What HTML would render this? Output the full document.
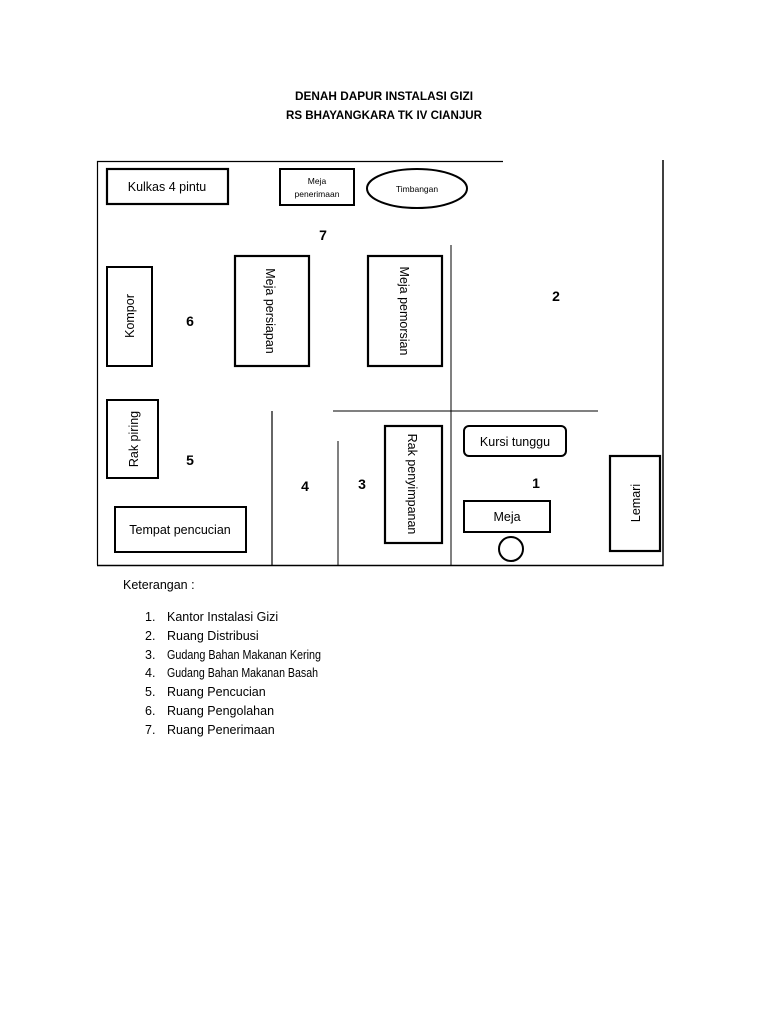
<!DOCTYPE html>
<html><head><meta charset="utf-8"><style>
html,body{margin:0;padding:0;background:#fff;}
svg{display:block;}
text{font-family:"Liberation Sans",sans-serif;fill:#000;}
</style></head><body>
<svg width="768" height="1024" viewBox="0 0 768 1024" xmlns="http://www.w3.org/2000/svg">
<rect width="768" height="1024" fill="#fff"/>
<text x="384" y="100" font-size="11.5" font-weight="bold" text-anchor="middle" textLength="178" lengthAdjust="spacingAndGlyphs">DENAH DAPUR INSTALASI GIZI</text>
<text x="384" y="119" font-size="11.5" font-weight="bold" text-anchor="middle" textLength="196" lengthAdjust="spacingAndGlyphs">RS BHAYANGKARA TK IV CIANJUR</text>

<g stroke="#000" fill="none">
<path d="M503 161.5 H97.5 V565" stroke-width="1.2"/>
<path d="M663 160 V565.5 H97" stroke-width="1.5"/>
<line x1="451" y1="245" x2="451" y2="565" stroke-width="1"/>
<line x1="333" y1="411" x2="598" y2="411" stroke-width="1"/>
<line x1="272" y1="411" x2="272" y2="565" stroke-width="1.2"/>
<line x1="338" y1="441" x2="338" y2="565" stroke-width="1"/>

<rect x="107" y="169" width="121" height="35" stroke-width="2.2"/>
<rect x="280" y="169" width="74" height="36" stroke-width="2"/>
<ellipse cx="417" cy="188.5" rx="50" ry="19.5" stroke-width="2"/>
<rect x="107" y="267" width="45" height="99" stroke-width="2"/>
<rect x="235" y="256" width="74" height="110" stroke-width="2.2"/>
<rect x="368" y="256" width="74" height="110" stroke-width="2.2"/>
<rect x="107" y="400" width="51" height="78" stroke-width="2"/>
<rect x="385" y="426" width="57" height="117" stroke-width="2.2"/>
<rect x="464" y="426" width="102" height="30" rx="5" stroke-width="2"/>
<rect x="464" y="501" width="86" height="31" stroke-width="2"/>
<circle cx="511" cy="549" r="12" stroke-width="2"/>
<rect x="610" y="456" width="50" height="95" stroke-width="2.2"/>
<rect x="115" y="507" width="131" height="45" stroke-width="2"/>
</g>

<text x="167" y="191" font-size="12.5" text-anchor="middle">Kulkas 4 pintu</text>
<text x="317" y="184" font-size="8.5" text-anchor="middle">Meja</text>
<text x="317" y="197" font-size="8.5" text-anchor="middle">penerimaan</text>
<text x="417" y="192" font-size="8.5" text-anchor="middle">Timbangan</text>
<text x="323" y="240" font-size="14" font-weight="bold" text-anchor="middle">7</text>
<text x="556" y="301" font-size="14" font-weight="bold" text-anchor="middle">2</text>
<text x="190" y="326" font-size="14" font-weight="bold" text-anchor="middle">6</text>
<text x="190" y="465" font-size="14" font-weight="bold" text-anchor="middle">5</text>
<text x="305" y="491" font-size="14" font-weight="bold" text-anchor="middle">4</text>
<text x="362" y="489" font-size="14" font-weight="bold" text-anchor="middle">3</text>
<text x="536" y="488" font-size="14" font-weight="bold" text-anchor="middle">1</text>

<text transform="translate(134 316) rotate(-90)" font-size="12.5" text-anchor="middle">Kompor</text>
<text transform="translate(266 311) rotate(90)" font-size="12.5" text-anchor="middle">Meja persiapan</text>
<text transform="translate(400 311) rotate(90)" font-size="12.5" text-anchor="middle">Meja pemorsian</text>
<text transform="translate(138 439) rotate(-90)" font-size="12.5" text-anchor="middle">Rak piring</text>
<text transform="translate(408 484) rotate(90)" font-size="12.5" text-anchor="middle">Rak penyimpanan</text>
<text transform="translate(640 503) rotate(-90)" font-size="12.5" text-anchor="middle">Lemari</text>
<text x="515" y="446" font-size="12.5" text-anchor="middle">Kursi tunggu</text>
<text x="507" y="521" font-size="12.5" text-anchor="middle">Meja</text>
<text x="180" y="534" font-size="12.5" text-anchor="middle">Tempat pencucian</text>

<g font-size="12.5">
<text x="123" y="589">Keterangan :</text>
<text x="145" y="621">1.</text><text x="167" y="621">Kantor Instalasi Gizi</text>
<text x="145" y="640">2.</text><text x="167" y="640">Ruang Distribusi</text>
<text x="145" y="659">3.</text><text x="167" y="659" textLength="154" lengthAdjust="spacingAndGlyphs">Gudang Bahan Makanan Kering</text>
<text x="145" y="677">4.</text><text x="167" y="677" textLength="151" lengthAdjust="spacingAndGlyphs">Gudang Bahan Makanan Basah</text>
<text x="145" y="696">5.</text><text x="167" y="696">Ruang Pencucian</text>
<text x="145" y="715">6.</text><text x="167" y="715">Ruang Pengolahan</text>
<text x="145" y="734">7.</text><text x="167" y="734">Ruang Penerimaan</text>
</g>
</svg>
</body></html>
